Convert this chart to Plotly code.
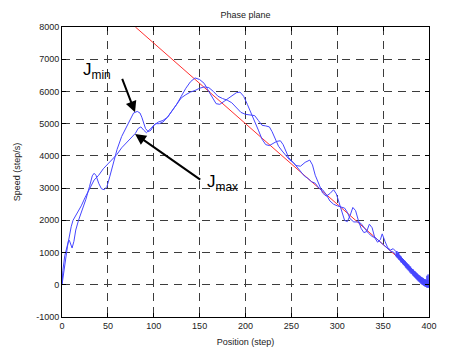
import plotly.graph_objects as go

# ---- data ----
jmin_pos = [0, 1, 3, 5, 7, 8, 10, 11, 13, 15, 18, 22, 26, 30, 33, 35, 37, 40, 43, 46, 49, 52, 56, 60,
            65, 70, 74, 78, 82, 85, 87, 89, 91, 94, 97, 100, 105, 110, 115, 120, 125, 130, 135, 140,
            145, 150, 155, 160, 165, 168, 172, 176, 180, 185, 190, 194, 198, 202, 206, 210, 214, 218,
            222, 226, 230, 234, 238, 241, 244, 247, 250, 255, 260, 265, 270, 273, 276, 280, 284, 288,
            292, 296, 299, 302, 305, 308, 311, 314, 317, 320, 323, 326, 329, 332, 335, 338, 341, 344,
            347, 349, 352, 355, 358, 361,
            364.0, 364.5, 365.0, 365.5, 366.0, 366.5, 367.0, 367.5, 368.0, 368.5, 369.0, 369.5, 370.0,
            370.5, 371.0, 371.5, 372.0, 372.5, 373.0, 373.5, 374.0, 374.5, 375.0, 375.5, 376.0, 376.5,
            377.0, 377.5, 378.0, 378.5, 379.0, 379.5, 380.0, 380.5, 381.0, 381.5, 382.0, 382.5, 383.0,
            383.5, 384.0, 384.5, 385.0, 385.5, 386.0, 386.5, 387.0, 387.5, 388.0, 388.5, 389.0, 389.5,
            390.0, 390.5, 391.0, 391.5, 392.0, 392.5, 393.0, 393.5, 394.0, 394.5, 395.0, 395.5, 396.0,
            396.5, 397.0, 397.5, 398.0, 398.5, 399.0, 399.5, 400.0]
jmin_speed = [0, 450, 900, 1150, 1350, 1380, 1170, 1140, 1350, 1700, 2000, 2300, 2650, 3050, 3380, 3460,
              3400, 3150, 2980, 2950, 3050, 3350, 3800, 4200, 4600, 4900, 5120, 5330, 5380, 5330, 5200,
              5000, 4850, 4750, 4800, 4950, 5050, 5100, 5200, 5400, 5600, 5850, 6100, 6300, 6420, 6370,
              6250, 6000, 5750, 5620, 5600, 5680, 5780, 5880, 5960, 5980, 5850, 5600, 5350, 5100, 4800,
              4520, 4350, 4320, 4380, 4450, 4470, 4350, 4150, 3950, 3850, 3700, 3680, 3800, 3870, 3720,
              3400, 3100, 2850, 2750, 2830, 2950, 2820, 2550, 2250, 2000, 1960, 2150, 2400, 2300, 2000,
              1750, 1620, 1650, 1880, 1770, 1450, 1320, 1400, 1580, 1350, 1150, 1080, 1120,
              1030, 860, 1040, 890, 980, 840, 1010, 820, 920, 780, 900, 740, 870,
              710, 820, 680, 800, 660, 760, 620, 740, 590, 700, 560, 670, 520,
              640, 480, 620, 460, 580, 410, 560, 400, 520, 360, 490, 320, 470,
              300, 430, 270, 410, 240, 380, 210, 350, 180, 320, 160, 300, 130,
              280, 100, 250, 80, 240, 40, 220, 20, 200, 0, 180, -20, 170,
              -40, 150, -50, 140, -70, 320, -90, 60]

jmax_pos = [0, 2, 4, 6, 8, 10, 12, 15, 18, 21, 25, 30, 35, 40, 45, 50, 55, 60, 65, 70, 75, 80, 83, 86,
            89, 92, 95, 98, 102, 106, 110, 115, 120, 125, 130, 135, 140, 145, 150, 155, 160, 165, 170,
            175, 180, 185, 190, 195, 200, 205, 210, 214, 218, 222, 226, 229, 232, 236, 240, 244, 248,
            252, 256, 260, 264, 268, 272, 276, 280, 284, 288, 292, 296, 300, 304, 308, 311, 314, 318,
            322, 326, 330, 334, 338, 342, 346, 350, 354, 358, 362,
            364.3, 364.8, 365.3, 365.8, 366.3, 366.8, 367.3, 367.8, 368.3, 368.8, 369.3, 369.8, 370.3,
            370.8, 371.3, 371.8, 372.3, 372.8, 373.3, 373.8, 374.3, 374.8, 375.3, 375.8, 376.3, 376.8,
            377.3, 377.8, 378.3, 378.8, 379.3, 379.8, 380.3, 380.8, 381.3, 381.8, 382.3, 382.8, 383.3,
            383.8, 384.3, 384.8, 385.3, 385.8, 386.3, 386.8, 387.3, 387.8, 388.3, 388.8, 389.3, 389.8,
            390.3, 390.8, 391.3, 391.8, 392.3, 392.8, 393.3, 393.8, 394.3, 394.8, 395.3, 395.8, 396.3,
            396.8, 397.3, 397.8, 398.3, 398.8, 399.3, 399.8]
jmax_speed = [0, 350, 800, 1200, 1550, 1800, 2000, 2150, 2300, 2450, 2700, 3000, 3250, 3400, 3600, 3750,
              3900, 4050, 4250, 4400, 4550, 4700, 4850, 4900, 4800, 4720, 4800, 4900, 5000, 5000, 5050,
              5200, 5400, 5600, 5800, 5900, 5980, 6030, 6100, 6140, 6120, 6000, 5850, 5780, 5730, 5650,
              5500, 5350, 5290, 5280, 5250, 5100, 4950, 4930, 4900, 4750, 4550, 4300, 4150, 4000, 3880,
              3800, 3650, 3500, 3380, 3300, 3200, 3150, 3000, 2950, 2800, 2600, 2500, 2450, 2420, 2380,
              2250, 2050, 1950, 1950, 1900, 1750, 1600, 1500, 1450, 1350, 1250, 1150, 1050, 1000,
              880, 1040, 840, 980, 810, 960, 770, 930, 750, 890, 700, 860, 680,
              830, 640, 800, 610, 760, 580, 730, 540, 700, 510, 670, 480, 640,
              450, 610, 420, 580, 380, 550, 350, 520, 330, 490, 290, 460, 260,
              430, 230, 400, 200, 370, 170, 350, 140, 320, 110, 290, 90, 270,
              60, 250, 30, 230, 10, 200, -10, 180, -30, 160, -50, 140, -60,
              120, -80, 280, -90, 150, -20, -50]

ref_pos = [80, 400]
ref_speed = [8000, 0]

x_ticks = [0, 50, 100, 150, 200, 250, 300, 350, 400]
y_ticks = [-1000, 0, 1000, 2000, 3000, 4000, 5000, 6000, 7000, 8000]

FONT = "Liberation Sans, Arial, sans-serif"

fig = go.Figure()
fig.add_trace(go.Scatter(x=ref_pos, y=ref_speed, mode="lines",
                         line=dict(color="#ff3030", width=1), showlegend=False))
fig.add_trace(go.Scatter(x=jmin_pos, y=jmin_speed, mode="lines",
                         line=dict(color="#4646ff", width=1), showlegend=False))
fig.add_trace(go.Scatter(x=jmax_pos, y=jmax_speed, mode="lines",
                         line=dict(color="#4646ff", width=1), showlegend=False))

axis_common = dict(
    showline=True, linecolor="black", linewidth=1, mirror="ticks",
    ticks="inside", ticklen=4, tickcolor="black",
    showgrid=True, gridcolor="#3c3c3c", gridwidth=1, griddash="8px,6px",
    zeroline=False, tickfont=dict(family=FONT, size=9, color="#222"),
)

fig.update_xaxes(range=[0, 400], tickvals=x_ticks, ticktext=[str(v) for v in x_ticks],
                 title=dict(text="Position (step)", font=dict(family=FONT, size=9, color="#222"),
                            standoff=8),
                 **axis_common)
fig.update_yaxes(range=[-1000, 8000], tickvals=y_ticks, ticktext=[str(v) for v in y_ticks],
                 title=dict(text="Speed (step/s)", font=dict(family=FONT, size=9, color="#222"),
                            standoff=14),
                 **axis_common)

# labels
fig.add_annotation(x=20.5, y=6650, xref="x", yref="y", text="J<sub>min</sub>", showarrow=False,
                   xanchor="left", yanchor="middle",
                   font=dict(family=FONT, size=17, color="black"))
fig.add_annotation(x=156, y=3150, xref="x", yref="y", text="J<sub>max</sub>", showarrow=False,
                   xanchor="left", yanchor="middle",
                   font=dict(family=FONT, size=17, color="black"))
# arrows
fig.add_annotation(x=79.6, y=5352, ax=65, ay=6439, xref="x", yref="y", axref="x", ayref="y",
                   text="", showarrow=True, arrowhead=2, arrowsize=1.1, arrowwidth=2,
                   arrowcolor="black", standoff=0)
fig.add_annotation(x=79.6, y=4680, ax=152.3, ay=3230, xref="x", yref="y", axref="x", ayref="y",
                   text="", showarrow=True, arrowhead=2, arrowsize=1.1, arrowwidth=2,
                   arrowcolor="black", standoff=0)

fig.update_layout(
    width=474, height=356,
    margin=dict(l=62, r=45, t=27, b=39, autoexpand=False),
    paper_bgcolor="white", plot_bgcolor="white",
    title=dict(text="Phase plane", x=0.518, xanchor="center", y=1 - 15 / 356, yanchor="middle",
               yref="container", font=dict(family=FONT, size=9, color="#222")),
)

fig.write_html("out.html", config={"displayModeBar": False},
               post_script="document.body.style.margin='0';")
